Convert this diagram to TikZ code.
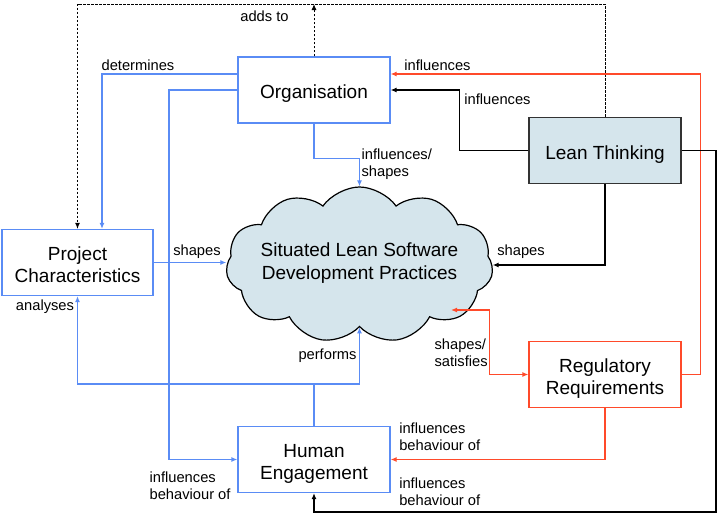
\documentclass[tikz,border=0pt]{standalone}
\usepackage{fontspec}
\setmainfont{Liberation Sans}
\usetikzlibrary{arrows.meta,shapes.symbols}
\definecolor{linkblue}{HTML}{5A8CF5}
\definecolor{linkred}{HTML}{FF4A2A}
\definecolor{paleblue}{HTML}{D5E5EC}
\definecolor{darkline}{HTML}{333333}

\begin{document}
\begin{tikzpicture}[
      x=1pt, y=-1pt,
      >={Latex[length=6pt,width=5pt]},
      line width=1.2pt,
      box/.style={rectangle, draw, minimum width=152pt, minimum height=66pt, align=center,
        font=\fontsize{19}{22.5}\selectfont, execute at begin node={\rule{0pt}{21.5pt}}},
      lbl/.style={font=\fontsize{14.7}{17}\selectfont, inner sep=0pt, align=left},
      blueline/.style={->, draw=linkblue},
      redline/.style={->, draw=linkred},
      blackline/.style={->, draw=black},
      addsline/.style={->, draw=black, line width=1pt, dash pattern=on 2.5pt off 1.5pt}
    ]
    \useasboundingbox (0,0) rectangle (717,514);
    % boxes
    \node[box, draw=linkblue] (org) at (314,90) {Organisation};
    \node[box, draw=darkline, fill=paleblue] (lean) at (605,150.5) {Lean Thinking};
    \node[box, draw=linkblue, minimum width=151pt] (proj) at (77.5,262.5) {Project\\Characteristics\\[-27pt]};
    \node[box, draw=linkblue] (human) at (314,459.5) {Human\\Engagement\\[-27pt]};
    \node[box, draw=linkred] (reg) at (605,374.5) {Regulatory\\Requirements\\[-27pt]};
    \node[cloud, cloud puffs=11, cloud puff arc=110, cloud ignores aspect, draw=black, fill=paleblue,
          inner sep=0pt, minimum width=267pt, minimum height=156pt, align=center, font=\fontsize{19}{22.5}\selectfont]
          (prac) at (359.5,265) {\makebox[140pt]{Situated Lean Software}\\\makebox[140pt]{Development Practices}\\[-14.5pt]};
    \coordinate (top) at (0,4);
    \coordinate (corner) at (716,512);
    % connectors
    \draw[addsline] (lean.north) -- (lean.north |- top) -| (proj.north);
    \draw[addsline] (org.north) -- (org.north |- top);
    \draw[blueline] ([yshift=16pt]org.west) -| ([xshift=24.5pt]proj.north);
    \draw[blueline] (org.west) -| (169,459.5) -- (human.west);
    \draw[blueline] (org.south) -- ++(0,35) -| (prac.north);
    \draw[blueline] (proj.east) -- (proj.east -| prac.west);
    \draw[blueline] (human.north) -- ++(0,-42) coordinate (hj) -| (proj.south);
    \draw[blueline] (hj) -| (prac.south);
    \draw[blackline] (lean.west) -- ++(-69,0) |- (org.east);
    \draw[redline] (reg.east) -- ++(19,0) |- ([yshift=16pt]org.east);
    \draw[blackline] (lean.south) |- (prac.east);
    \draw[blackline] (lean.east) -| (corner) -| (human.south);
    \draw[redline, <->] (reg.west) -- ++(-39,0) |- ([shift={(91.5,45)}]prac.center);
    \draw[redline] (reg.south) |- (human.east);
    % labels
    \node[lbl] at (264.5,16) {adds to};
    \node[lbl] at (138,65) {determines};
    \node[lbl] at (437.5,65) {influences};
    \node[lbl] at (497.5,99) {influences};
    \node[lbl, anchor=west] at (361,164.5) {influences/\\shapes};
    \node[lbl] at (197,252) {shapes};
    \node[lbl] at (521,252) {shapes};
    \node[lbl] at (45,307) {analyses};
    \node[lbl] at (327.5,356) {performs};
    \node[lbl, anchor=west] at (434,352.5) {shapes/\\satisfies};
    \node[lbl, anchor=west] at (149,485.5) {influences\\behaviour of};
    \node[lbl, anchor=west] at (398.7,437) {influences\\behaviour of};
    \node[lbl, anchor=west] at (398.7,492) {influences\\behaviour of};
\end{tikzpicture}
\end{document}
